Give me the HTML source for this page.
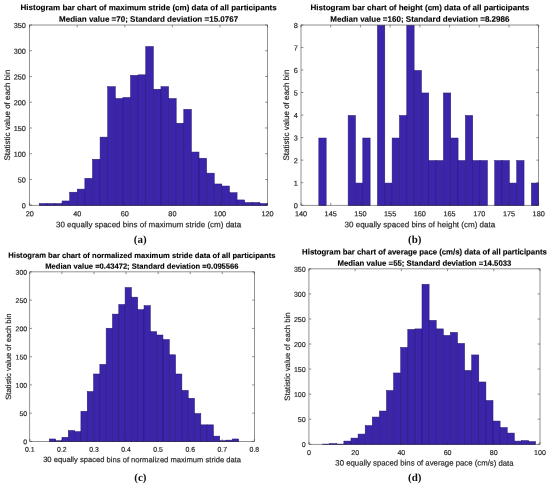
<!DOCTYPE html>
<html><head><meta charset="utf-8"><title>Histograms</title>
<style>
html,body{margin:0;padding:0;background:#fff;}
svg{display:block;}
text{font-family:"Liberation Sans",Arial,sans-serif;fill:#262626;text-rendering:geometricPrecision;stroke:#262626;stroke-width:0.18px;}
.t{font-weight:bold;fill:#000;stroke:#000;stroke-width:0.12px;}
.cap{font-family:"Liberation Serif","DejaVu Serif",serif;font-weight:bold;fill:#111;stroke:none;}
</style></head><body>
<svg width="550" height="486" viewBox="0 0 550 486">
<rect width="550" height="486" fill="#fff"/>
<g id="chart-a">
<g fill="#3c25ab" stroke="#20166e" stroke-width="0.5">
<rect x="39.21" y="203.54" width="7.61" height="2.01"/>
<rect x="46.82" y="203.54" width="7.61" height="2.01"/>
<rect x="54.43" y="203.54" width="7.61" height="2.01"/>
<rect x="62.04" y="200.97" width="7.61" height="4.58"/>
<rect x="69.65" y="192.21" width="7.61" height="13.34"/>
<rect x="77.26" y="189.12" width="7.61" height="16.43"/>
<rect x="84.87" y="178.31" width="7.61" height="27.24"/>
<rect x="92.48" y="159.26" width="7.61" height="46.29"/>
<rect x="100.09" y="137.12" width="7.61" height="68.43"/>
<rect x="107.70" y="86.67" width="7.61" height="118.88"/>
<rect x="115.31" y="98.51" width="7.61" height="107.04"/>
<rect x="122.92" y="97.48" width="7.61" height="108.07"/>
<rect x="130.53" y="75.34" width="7.61" height="130.21"/>
<rect x="138.14" y="74.83" width="7.61" height="130.72"/>
<rect x="145.75" y="46.51" width="7.61" height="159.04"/>
<rect x="153.36" y="89.24" width="7.61" height="116.31"/>
<rect x="160.97" y="86.67" width="7.61" height="118.88"/>
<rect x="168.58" y="98.51" width="7.61" height="107.04"/>
<rect x="176.18" y="123.22" width="7.61" height="82.33"/>
<rect x="183.79" y="109.32" width="7.61" height="96.23"/>
<rect x="191.40" y="152.05" width="7.61" height="53.50"/>
<rect x="199.01" y="158.23" width="7.61" height="47.32"/>
<rect x="206.62" y="173.16" width="7.61" height="32.39"/>
<rect x="214.23" y="183.98" width="7.61" height="21.57"/>
<rect x="221.84" y="186.04" width="7.61" height="19.51"/>
<rect x="229.45" y="192.73" width="7.61" height="12.82"/>
<rect x="237.06" y="199.94" width="7.61" height="5.61"/>
<rect x="244.67" y="202.51" width="7.61" height="3.04"/>
<rect x="252.28" y="202.51" width="7.61" height="3.04"/>
<rect x="259.89" y="203.54" width="7.61" height="2.01"/>
</g>
<rect x="29.70" y="25.00" width="237.80" height="180.20" fill="none" stroke="#262626" stroke-width="0.5"/>
<path d="M29.70 205.20v-2.40M29.70 25.00v2.40M77.26 205.20v-2.40M77.26 25.00v2.40M124.82 205.20v-2.40M124.82 25.00v2.40M172.38 205.20v-2.40M172.38 25.00v2.40M219.94 205.20v-2.40M219.94 25.00v2.40M267.50 205.20v-2.40M267.50 25.00v2.40M29.70 205.20h2.40M267.50 205.20h-2.40M29.70 179.46h2.40M267.50 179.46h-2.40M29.70 153.71h2.40M267.50 153.71h-2.40M29.70 127.97h2.40M267.50 127.97h-2.40M29.70 102.23h2.40M267.50 102.23h-2.40M29.70 76.49h2.40M267.50 76.49h-2.40M29.70 50.74h2.40M267.50 50.74h-2.40M29.70 25.00h2.40M267.50 25.00h-2.40" stroke="#262626" stroke-width="0.5" fill="none"/>
<g font-size="7.30">
<text transform="translate(29.70 216.20) rotate(0.04)" text-anchor="middle">20</text>
<text transform="translate(77.26 216.20) rotate(0.04)" text-anchor="middle">40</text>
<text transform="translate(124.82 216.20) rotate(0.04)" text-anchor="middle">60</text>
<text transform="translate(172.38 216.20) rotate(0.04)" text-anchor="middle">80</text>
<text transform="translate(219.94 216.20) rotate(0.04)" text-anchor="middle">100</text>
<text transform="translate(267.50 216.20) rotate(0.04)" text-anchor="middle">120</text>
<text transform="translate(25.90 208.20) rotate(0.04)" text-anchor="end">0</text>
<text transform="translate(25.90 182.46) rotate(0.04)" text-anchor="end">50</text>
<text transform="translate(25.90 156.71) rotate(0.04)" text-anchor="end">100</text>
<text transform="translate(25.90 130.97) rotate(0.04)" text-anchor="end">150</text>
<text transform="translate(25.90 105.23) rotate(0.04)" text-anchor="end">200</text>
<text transform="translate(25.90 79.49) rotate(0.04)" text-anchor="end">250</text>
<text transform="translate(25.90 53.74) rotate(0.04)" text-anchor="end">300</text>
<text transform="translate(25.90 28.00) rotate(0.04)" text-anchor="end">350</text>
</g>
<text transform="translate(148.60 227.20) rotate(0.04)" text-anchor="middle" font-size="8.03">30 equally spaced bins of maximum stride (cm) data</text>
<text transform="translate(9.80 115.10) rotate(-90)" font-size="8.03" text-anchor="middle">Statistic value of each bin</text>
<text transform="translate(148.60 10.20) rotate(0.04)" text-anchor="middle" class="t" font-size="8.03">Histogram bar chart of maximum stride (cm) data of all participants</text>
<text transform="translate(148.60 21.70) rotate(0.04)" text-anchor="middle" class="t" font-size="8.03">Median value =70; Standard deviation =15.0767</text>
<text class="cap" x="140.20" y="242.70" font-size="11" text-anchor="middle">(a)</text>
</g>
<g id="chart-b">
<g fill="#3c25ab" stroke="#20166e" stroke-width="0.5">
<rect x="318.83" y="138.03" width="7.33" height="67.52"/>
<rect x="348.14" y="115.50" width="7.33" height="90.05"/>
<rect x="355.47" y="183.07" width="7.33" height="22.48"/>
<rect x="362.80" y="138.03" width="7.33" height="67.52"/>
<rect x="377.46" y="25.40" width="7.33" height="180.15"/>
<rect x="384.79" y="183.07" width="7.33" height="22.48"/>
<rect x="392.12" y="138.03" width="7.33" height="67.52"/>
<rect x="399.45" y="115.50" width="7.33" height="90.05"/>
<rect x="406.78" y="25.40" width="7.33" height="180.15"/>
<rect x="414.11" y="70.45" width="7.33" height="135.10"/>
<rect x="421.43" y="92.97" width="7.33" height="112.57"/>
<rect x="428.76" y="160.55" width="7.33" height="45.00"/>
<rect x="436.09" y="160.55" width="7.33" height="45.00"/>
<rect x="443.42" y="92.97" width="7.33" height="112.57"/>
<rect x="450.75" y="138.03" width="7.33" height="67.52"/>
<rect x="458.08" y="160.55" width="7.33" height="45.00"/>
<rect x="465.41" y="115.50" width="7.33" height="90.05"/>
<rect x="472.74" y="160.55" width="7.33" height="45.00"/>
<rect x="480.07" y="160.55" width="7.33" height="45.00"/>
<rect x="494.73" y="160.55" width="7.33" height="45.00"/>
<rect x="502.05" y="160.55" width="7.33" height="45.00"/>
<rect x="509.38" y="183.07" width="7.33" height="22.48"/>
<rect x="516.71" y="160.55" width="7.33" height="45.00"/>
<rect x="531.37" y="183.07" width="7.33" height="22.48"/>
</g>
<rect x="301.00" y="25.00" width="237.70" height="180.20" fill="none" stroke="#262626" stroke-width="0.5"/>
<path d="M301.00 205.20v-2.40M301.00 25.00v2.40M330.71 205.20v-2.40M330.71 25.00v2.40M360.43 205.20v-2.40M360.43 25.00v2.40M390.14 205.20v-2.40M390.14 25.00v2.40M419.85 205.20v-2.40M419.85 25.00v2.40M449.56 205.20v-2.40M449.56 25.00v2.40M479.28 205.20v-2.40M479.28 25.00v2.40M508.99 205.20v-2.40M508.99 25.00v2.40M538.70 205.20v-2.40M538.70 25.00v2.40M301.00 205.20h2.40M538.70 205.20h-2.40M301.00 182.67h2.40M538.70 182.67h-2.40M301.00 160.15h2.40M538.70 160.15h-2.40M301.00 137.62h2.40M538.70 137.62h-2.40M301.00 115.10h2.40M538.70 115.10h-2.40M301.00 92.57h2.40M538.70 92.57h-2.40M301.00 70.05h2.40M538.70 70.05h-2.40M301.00 47.53h2.40M538.70 47.53h-2.40M301.00 25.00h2.40M538.70 25.00h-2.40" stroke="#262626" stroke-width="0.5" fill="none"/>
<g font-size="7.30">
<text transform="translate(301.00 216.20) rotate(0.04)" text-anchor="middle">140</text>
<text transform="translate(330.71 216.20) rotate(0.04)" text-anchor="middle">145</text>
<text transform="translate(360.43 216.20) rotate(0.04)" text-anchor="middle">150</text>
<text transform="translate(390.14 216.20) rotate(0.04)" text-anchor="middle">155</text>
<text transform="translate(419.85 216.20) rotate(0.04)" text-anchor="middle">160</text>
<text transform="translate(449.56 216.20) rotate(0.04)" text-anchor="middle">165</text>
<text transform="translate(479.28 216.20) rotate(0.04)" text-anchor="middle">170</text>
<text transform="translate(508.99 216.20) rotate(0.04)" text-anchor="middle">175</text>
<text transform="translate(538.70 216.20) rotate(0.04)" text-anchor="middle">180</text>
<text transform="translate(297.80 208.20) rotate(0.04)" text-anchor="end">0</text>
<text transform="translate(297.80 185.67) rotate(0.04)" text-anchor="end">1</text>
<text transform="translate(297.80 163.15) rotate(0.04)" text-anchor="end">2</text>
<text transform="translate(297.80 140.62) rotate(0.04)" text-anchor="end">3</text>
<text transform="translate(297.80 118.10) rotate(0.04)" text-anchor="end">4</text>
<text transform="translate(297.80 95.57) rotate(0.04)" text-anchor="end">5</text>
<text transform="translate(297.80 73.05) rotate(0.04)" text-anchor="end">6</text>
<text transform="translate(297.80 50.53) rotate(0.04)" text-anchor="end">7</text>
<text transform="translate(297.80 28.00) rotate(0.04)" text-anchor="end">8</text>
</g>
<text transform="translate(419.85 227.20) rotate(0.04)" text-anchor="middle" font-size="8.03">30 equally spaced bins of height (cm) data</text>
<text transform="translate(289.40 115.10) rotate(-90)" font-size="8.03" text-anchor="middle">Statistic value of each bin</text>
<text transform="translate(419.85 10.20) rotate(0.04)" text-anchor="middle" class="t" font-size="8.03">Histogram bar chart of height (cm) data of all participants</text>
<text transform="translate(419.85 21.70) rotate(0.04)" text-anchor="middle" class="t" font-size="8.03">Median value =160; Standard deviation =8.2986</text>
<text class="cap" x="414.70" y="242.70" font-size="11" text-anchor="middle">(b)</text>
</g>
<g id="chart-c">
<g fill="#3c25ab" stroke="#20166e" stroke-width="0.5">
<rect x="49.37" y="438.97" width="6.31" height="2.78"/>
<rect x="55.68" y="440.67" width="6.31" height="1.08"/>
<rect x="61.99" y="437.28" width="6.31" height="4.47"/>
<rect x="68.30" y="430.50" width="6.31" height="11.25"/>
<rect x="74.61" y="431.63" width="6.31" height="10.12"/>
<rect x="80.92" y="411.29" width="6.31" height="30.46"/>
<rect x="87.23" y="391.51" width="6.31" height="50.24"/>
<rect x="93.54" y="374.00" width="6.31" height="67.75"/>
<rect x="99.85" y="364.39" width="6.31" height="77.35"/>
<rect x="106.16" y="328.23" width="6.31" height="113.52"/>
<rect x="112.47" y="314.11" width="6.31" height="127.64"/>
<rect x="118.78" y="304.50" width="6.31" height="137.25"/>
<rect x="125.09" y="287.55" width="6.31" height="154.20"/>
<rect x="131.40" y="297.16" width="6.31" height="144.59"/>
<rect x="137.71" y="309.59" width="6.31" height="132.16"/>
<rect x="144.03" y="305.63" width="6.31" height="136.11"/>
<rect x="150.34" y="331.62" width="6.31" height="110.13"/>
<rect x="156.65" y="335.01" width="6.31" height="106.73"/>
<rect x="162.96" y="339.53" width="6.31" height="102.22"/>
<rect x="169.27" y="354.79" width="6.31" height="86.96"/>
<rect x="175.58" y="374.00" width="6.31" height="67.75"/>
<rect x="181.89" y="390.38" width="6.31" height="51.37"/>
<rect x="188.20" y="398.29" width="6.31" height="43.46"/>
<rect x="194.51" y="413.55" width="6.31" height="28.20"/>
<rect x="200.82" y="424.85" width="6.31" height="16.90"/>
<rect x="207.13" y="424.85" width="6.31" height="16.90"/>
<rect x="213.44" y="436.15" width="6.31" height="5.60"/>
<rect x="219.75" y="440.67" width="6.31" height="1.08"/>
<rect x="226.06" y="440.10" width="6.31" height="1.65"/>
<rect x="232.37" y="438.97" width="6.31" height="2.78"/>
</g>
<rect x="29.80" y="271.90" width="224.60" height="169.50" fill="none" stroke="#262626" stroke-width="0.5"/>
<path d="M29.80 441.40v-2.26M29.80 271.90v2.26M61.89 441.40v-2.26M61.89 271.90v2.26M93.97 441.40v-2.26M93.97 271.90v2.26M126.06 441.40v-2.26M126.06 271.90v2.26M158.14 441.40v-2.26M158.14 271.90v2.26M190.23 441.40v-2.26M190.23 271.90v2.26M222.31 441.40v-2.26M222.31 271.90v2.26M254.40 441.40v-2.26M254.40 271.90v2.26M29.80 441.40h2.26M254.40 441.40h-2.26M29.80 413.15h2.26M254.40 413.15h-2.26M29.80 384.90h2.26M254.40 384.90h-2.26M29.80 356.65h2.26M254.40 356.65h-2.26M29.80 328.40h2.26M254.40 328.40h-2.26M29.80 300.15h2.26M254.40 300.15h-2.26M29.80 271.90h2.26M254.40 271.90h-2.26" stroke="#262626" stroke-width="0.5" fill="none"/>
<g font-size="6.92">
<text transform="translate(29.80 451.77) rotate(0.04)" text-anchor="middle">0.1</text>
<text transform="translate(61.89 451.77) rotate(0.04)" text-anchor="middle">0.2</text>
<text transform="translate(93.97 451.77) rotate(0.04)" text-anchor="middle">0.3</text>
<text transform="translate(126.06 451.77) rotate(0.04)" text-anchor="middle">0.4</text>
<text transform="translate(158.14 451.77) rotate(0.04)" text-anchor="middle">0.5</text>
<text transform="translate(190.23 451.77) rotate(0.04)" text-anchor="middle">0.6</text>
<text transform="translate(222.31 451.77) rotate(0.04)" text-anchor="middle">0.7</text>
<text transform="translate(254.40 451.77) rotate(0.04)" text-anchor="middle">0.8</text>
<text transform="translate(27.07 444.23) rotate(0.04)" text-anchor="end">0</text>
<text transform="translate(27.07 415.98) rotate(0.04)" text-anchor="end">50</text>
<text transform="translate(27.07 387.73) rotate(0.04)" text-anchor="end">100</text>
<text transform="translate(27.07 359.48) rotate(0.04)" text-anchor="end">150</text>
<text transform="translate(27.07 331.23) rotate(0.04)" text-anchor="end">200</text>
<text transform="translate(27.07 302.98) rotate(0.04)" text-anchor="end">250</text>
<text transform="translate(27.07 274.73) rotate(0.04)" text-anchor="end">300</text>
</g>
<text transform="translate(142.10 462.15) rotate(0.04)" text-anchor="middle" font-size="7.61">30 equally spaced bins of normalized maximum stride data</text>
<text transform="translate(11.03 356.65) rotate(-90)" font-size="7.61" text-anchor="middle">Statistic value of each bin</text>
<text transform="translate(141.90 257.94) rotate(0.04)" text-anchor="middle" class="t" font-size="7.61">Histogram bar chart of normalized maximum stride data of all participants</text>
<text transform="translate(141.90 268.79) rotate(0.04)" text-anchor="middle" class="t" font-size="7.61">Median value =0.43472; Standard deviation =0.095566</text>
<text class="cap" x="140.40" y="480.80" font-size="11" text-anchor="middle">(c)</text>
</g>
<g id="chart-d">
<g fill="#3c25ab" stroke="#20166e" stroke-width="0.5">
<rect x="322.58" y="444.10" width="7.10" height="0.45"/>
<rect x="329.68" y="443.60" width="7.10" height="0.95"/>
<rect x="336.78" y="444.10" width="7.10" height="0.45"/>
<rect x="343.88" y="441.09" width="7.10" height="3.46"/>
<rect x="350.99" y="438.09" width="7.10" height="6.46"/>
<rect x="358.09" y="434.08" width="7.10" height="10.47"/>
<rect x="365.19" y="425.57" width="7.10" height="18.98"/>
<rect x="372.29" y="417.05" width="7.10" height="27.50"/>
<rect x="379.39" y="411.04" width="7.10" height="33.51"/>
<rect x="386.49" y="390.51" width="7.10" height="54.04"/>
<rect x="393.59" y="372.98" width="7.10" height="71.57"/>
<rect x="400.69" y="347.43" width="7.10" height="97.12"/>
<rect x="407.79" y="329.40" width="7.10" height="115.15"/>
<rect x="414.89" y="328.90" width="7.10" height="115.65"/>
<rect x="422.00" y="284.33" width="7.10" height="160.22"/>
<rect x="429.10" y="320.39" width="7.10" height="124.16"/>
<rect x="436.20" y="328.90" width="7.10" height="115.65"/>
<rect x="443.30" y="335.41" width="7.10" height="109.14"/>
<rect x="450.40" y="332.41" width="7.10" height="112.14"/>
<rect x="457.50" y="343.43" width="7.10" height="101.12"/>
<rect x="464.60" y="370.47" width="7.10" height="74.08"/>
<rect x="471.70" y="354.95" width="7.10" height="89.60"/>
<rect x="478.80" y="381.99" width="7.10" height="62.56"/>
<rect x="485.90" y="400.52" width="7.10" height="44.03"/>
<rect x="493.00" y="421.06" width="7.10" height="23.49"/>
<rect x="500.11" y="427.57" width="7.10" height="16.98"/>
<rect x="507.21" y="433.08" width="7.10" height="11.47"/>
<rect x="514.31" y="441.09" width="7.10" height="3.46"/>
<rect x="521.41" y="440.59" width="7.10" height="3.96"/>
<rect x="528.51" y="441.59" width="7.10" height="2.96"/>
</g>
<rect x="308.95" y="268.90" width="231.05" height="175.30" fill="none" stroke="#262626" stroke-width="0.5"/>
<path d="M308.95 444.20v-2.33M308.95 268.90v2.33M355.16 444.20v-2.33M355.16 268.90v2.33M401.37 444.20v-2.33M401.37 268.90v2.33M447.58 444.20v-2.33M447.58 268.90v2.33M493.79 444.20v-2.33M493.79 268.90v2.33M540.00 444.20v-2.33M540.00 268.90v2.33M308.95 444.20h2.33M540.00 444.20h-2.33M308.95 419.16h2.33M540.00 419.16h-2.33M308.95 394.11h2.33M540.00 394.11h-2.33M308.95 369.07h2.33M540.00 369.07h-2.33M308.95 344.03h2.33M540.00 344.03h-2.33M308.95 318.99h2.33M540.00 318.99h-2.33M308.95 293.94h2.33M540.00 293.94h-2.33M308.95 268.90h2.33M540.00 268.90h-2.33" stroke="#262626" stroke-width="0.5" fill="none"/>
<g font-size="7.08">
<text transform="translate(308.95 454.89) rotate(0.04)" text-anchor="middle">0</text>
<text transform="translate(355.16 454.89) rotate(0.04)" text-anchor="middle">20</text>
<text transform="translate(401.37 454.89) rotate(0.04)" text-anchor="middle">40</text>
<text transform="translate(447.58 454.89) rotate(0.04)" text-anchor="middle">60</text>
<text transform="translate(493.79 454.89) rotate(0.04)" text-anchor="middle">80</text>
<text transform="translate(540.00 454.89) rotate(0.04)" text-anchor="middle">100</text>
<text transform="translate(305.74 447.12) rotate(0.04)" text-anchor="end">0</text>
<text transform="translate(305.74 422.07) rotate(0.04)" text-anchor="end">50</text>
<text transform="translate(305.74 397.03) rotate(0.04)" text-anchor="end">100</text>
<text transform="translate(305.74 371.99) rotate(0.04)" text-anchor="end">150</text>
<text transform="translate(305.74 346.94) rotate(0.04)" text-anchor="end">200</text>
<text transform="translate(305.74 321.90) rotate(0.04)" text-anchor="end">250</text>
<text transform="translate(305.74 296.86) rotate(0.04)" text-anchor="end">300</text>
<text transform="translate(305.74 271.82) rotate(0.04)" text-anchor="end">350</text>
</g>
<text transform="translate(424.48 465.58) rotate(0.04)" text-anchor="middle" font-size="7.79">30 equally spaced bins of average pace (cm/s) data</text>
<text transform="translate(289.61 356.55) rotate(-90)" font-size="7.79" text-anchor="middle">Statistic value of each bin</text>
<text transform="translate(424.48 254.51) rotate(0.04)" text-anchor="middle" class="t" font-size="7.79">Histogram bar chart of average pace (cm/s) data of all participants</text>
<text transform="translate(424.48 265.69) rotate(0.04)" text-anchor="middle" class="t" font-size="7.79">Median value =55; Standard deviation =14.5033</text>
<text class="cap" x="414.70" y="480.80" font-size="11" text-anchor="middle">(d)</text>
</g>
</svg>
</body></html>
